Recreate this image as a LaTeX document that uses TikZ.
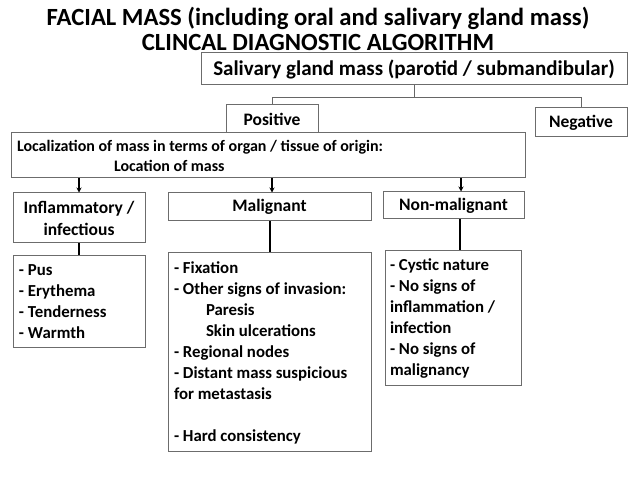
\documentclass[tikz,border=0pt]{standalone}
\usepackage{fontspec}
\setmainfont{Carlito}
\usetikzlibrary{arrows.meta}
\tikzset{
  box/.style={draw=gray!85!black, line width=1pt, inner sep=0pt, font=\bfseries},
  tbox/.style={box, font=\bfseries\fontsize{16.8pt}{21pt}\selectfont},
  cat/.style={box, align=center, font=\bfseries\fontsize{17.5pt}{22pt}\selectfont},
  link/.style={line width=2pt, black},
  arr/.style={line width=1.4pt, black, -{Stealth[length=5pt,width=5pt]}},
  bracket/.style={line width=0.8pt, gray!80!black}
}
\begin{document}
\begin{tikzpicture}[x=1pt,y=-1pt]
\useasboundingbox[fill=white] (0,0) rectangle (638,478);
% title
\node[align=center, font=\bfseries\fontsize{24.7pt}{25pt}\selectfont] (title) at (318,29)
  {FACIAL MASS (including oral and salivary gland mass)\\CLINCAL DIAGNOSTIC ALGORITHM};
% top level
\node[box, minimum width=426pt, minimum height=32pt, font=\bfseries\fontsize{21pt}{24pt}\selectfont] (sal) at (414,69)
  {Salivary gland mass (parotid / submandibular)};
\node[cat, minimum width=92pt, minimum height=28pt] (pos) at (272,119) {Positive};
\node[cat, minimum width=92pt, minimum height=29pt] (neg) at (581,122.5) {Negative};
\draw[bracket] (sal.south) -- ([yshift=-12pt]sal.south) coordinate (br) -| (pos.north);
\draw[bracket] (br) -| (neg.north);
% localization
\node[box, minimum width=514pt, minimum height=45pt,
      font=\bfseries\fontsize{16pt}{20pt}\selectfont] (loc) at (268,155.5)
  {\parbox{502pt}{\raggedright Localization of mass in terms of organ / tissue of origin:\\\hspace*{97pt}Location of mass}};
% categories
\node[cat, minimum width=132pt, minimum height=50pt] (inf) at (79,218) {Inflammatory /\\infectious};
\node[cat, minimum width=203pt, minimum height=28pt] (mal) at (269.5,207) {Malignant};
\node[cat, minimum width=141pt, minimum height=27pt] (non) at (453.5,205.5) {Non-malignant};
\draw[arr] (loc.south -| inf.north) -- (inf.north);
\draw[arr] ([xshift=2.5pt]mal.north |- loc.south) -- ([xshift=2.5pt]mal.north);
\draw[arr] ([xshift=7.5pt]non.north |- loc.south) -- ([xshift=7.5pt]non.north);
% detail boxes
\node[tbox, minimum width=132pt, minimum height=92pt] (infd) at (79,302)
  {\parbox{120pt}{\raggedright - Pus\\- Erythema\\- Tenderness\\- Warmth}};
\node[tbox, minimum width=203pt, minimum height=199pt] (mald) at (269.5,352.5)
  {\parbox{191pt}{\raggedright - Fixation\\- Other signs of invasion:\\\hspace*{32pt}Paresis\\\hspace*{32pt}Skin ulcerations\\- Regional nodes\\- Distant mass suspicious\\for metastasis\\[21pt]- Hard consistency}};
\node[tbox, minimum width=136pt, minimum height=135pt] (nond) at (453,318.5)
  {\parbox{126pt}{\raggedright - Cystic nature\\- No signs of\\inflammation /\\infection\\- No signs of\\malignancy}};
\draw[link] (inf.south) -- (infd.north);
\draw[link] (mal.south) -- (mal.south |- mald.north);
\draw[link] ([xshift=6.5pt]non.south) -- ([xshift=6.5pt]non.south |- nond.north);
\end{tikzpicture}
\end{document}
